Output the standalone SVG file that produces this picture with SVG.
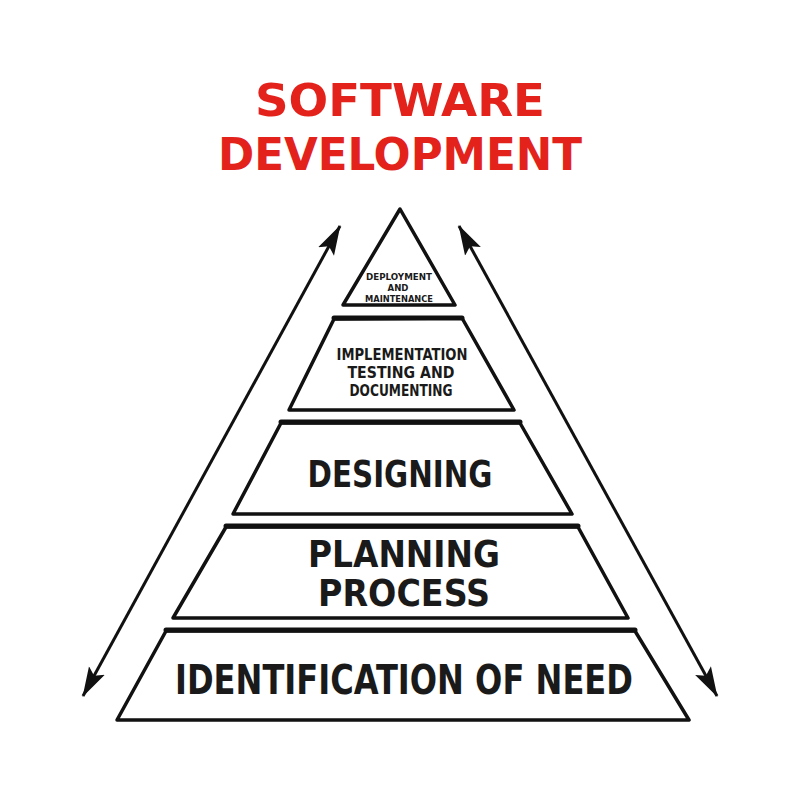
<svg xmlns="http://www.w3.org/2000/svg" width="800" height="800" viewBox="0 0 800 800">
<defs>
<marker id="ah" viewBox="0 0 30 20" refX="29" refY="10" markerWidth="30" markerHeight="20" markerUnits="userSpaceOnUse" orient="auto-start-reverse">
<path d="M0,1 L30,10 L0,19 L6,10 Z" fill="#111"/>
</marker>
</defs>
<style>
.lay{fill:#fff;stroke:#111;stroke-width:3.5;stroke-linejoin:round}
.top{stroke:#111;stroke-width:5;stroke-linecap:round}
.t{font-family:"DejaVu Sans Condensed","DejaVu Sans",sans-serif;font-weight:bold;fill:#1a1a1a;text-anchor:middle}
.title{font-family:"DejaVu Sans Condensed","DejaVu Sans",sans-serif;font-weight:bold;fill:#e3231b;text-anchor:middle}
.arr{stroke:#111;stroke-width:3;fill:none}
</style>
<rect width="800" height="800" fill="#fff"/>
<g id="title">
<text class="title" x="400" y="116" font-size="45" textLength="290" lengthAdjust="spacingAndGlyphs">SOFTWARE</text>
<text class="title" x="400" y="170" font-size="45" textLength="364" lengthAdjust="spacingAndGlyphs">DEVELOPMENT</text>
</g>
<g id="connectors">
<line class="arr" x1="340" y1="226" x2="83" y2="696" marker-start="url(#ah)" marker-end="url(#ah)"/>
<line class="arr" x1="459" y1="226" x2="717" y2="696" marker-start="url(#ah)" marker-end="url(#ah)"/>
</g>
<g id="layer1">
<polygon class="lay" points="400,209 455,305 343,305" stroke-width="4.5"/>
<text class="t" x="399" y="280" font-size="9.5" textLength="66" lengthAdjust="spacingAndGlyphs">DEPLOYMENT</text>
<text class="t" x="398" y="291" font-size="9.5">AND</text>
<text class="t" x="399" y="302" font-size="9.5" textLength="68" lengthAdjust="spacingAndGlyphs">MAINTENANCE</text>
</g>
<g id="layer2">
<polygon class="lay" points="334,319 462,318 514,410 289,410"/>
<line class="top" x1="334" y1="318" x2="462" y2="318"/>
<text class="t" x="402" y="360" font-size="15" textLength="131" lengthAdjust="spacingAndGlyphs">IMPLEMENTATION</text>
<text class="t" x="401" y="378" font-size="15" textLength="107" lengthAdjust="spacingAndGlyphs">TESTING AND</text>
<text class="t" x="401" y="396" font-size="15" textLength="103" lengthAdjust="spacingAndGlyphs">DOCUMENTING</text>
</g>
<g id="layer3">
<polygon class="lay" points="281,423 520,423 572,514 233,514"/>
<line class="top" x1="281" y1="422" x2="520" y2="422"/>
<text class="t" x="400" y="487" font-size="37" textLength="185" lengthAdjust="spacingAndGlyphs">DESIGNING</text>
</g>
<g id="layer4">
<polygon class="lay" points="226,527 578,527 628,618 173,618"/>
<line class="top" x1="226" y1="526" x2="578" y2="526"/>
<text class="t" x="404" y="567" font-size="37" textLength="192" lengthAdjust="spacingAndGlyphs">PLANNING</text>
<text class="t" x="404" y="606" font-size="37" textLength="172" lengthAdjust="spacingAndGlyphs">PROCESS</text>
</g>
<g id="layer5">
<polygon class="lay" points="166,631 635,631 689,720 117,720"/>
<line class="top" x1="166" y1="630" x2="635" y2="630"/>
<text class="t" x="404" y="694" font-size="40" textLength="458" lengthAdjust="spacingAndGlyphs">IDENTIFICATION OF NEED</text>
</g>
</svg>
